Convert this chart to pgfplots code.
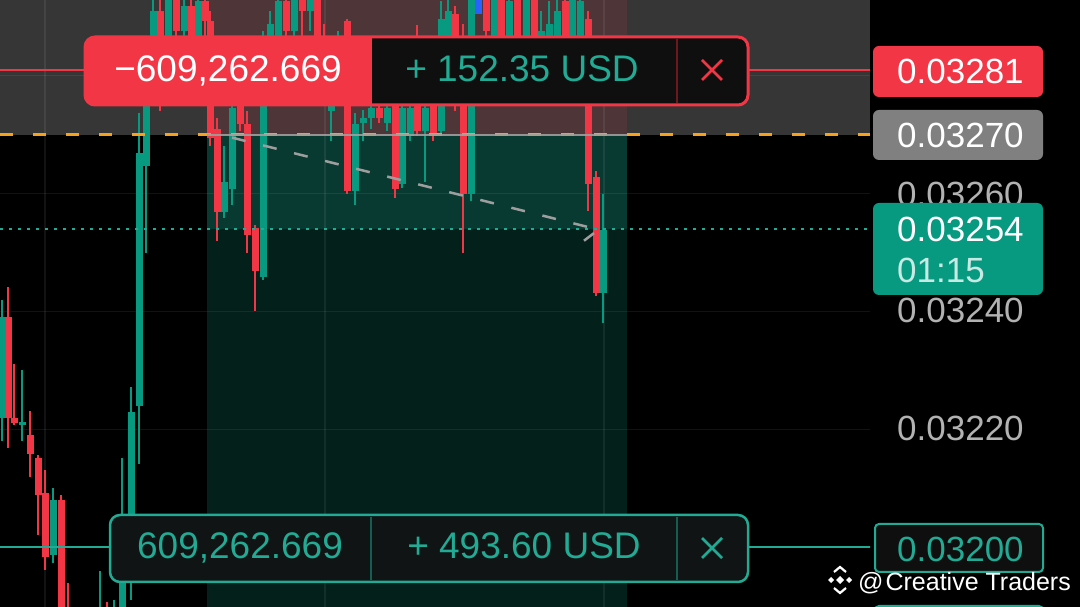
\documentclass[border=0pt]{standalone}
\usepackage{fontspec}
\setmainfont{Liberation Sans}
\usepackage{pgfplots}
\pgfplotsset{compat=1.18}
\usepackage{pgfplotstable}
\definecolor{cRed}{HTML}{F23645}
\definecolor{cGreen}{HTML}{089981}
\definecolor{cTeal}{HTML}{22AB94}
\definecolor{cOrange}{HTML}{F7A21B}
\definecolor{cGrayBand}{HTML}{363636}
\definecolor{cRedZone}{HTML}{4D3538}
\definecolor{cTealHi}{HTML}{093A31}
\definecolor{cTealLo}{HTML}{03201A}
\definecolor{cBox}{HTML}{0F0F0F}
\definecolor{cBox2}{HTML}{111414}
\definecolor{cLbl}{HTML}{B2B2B2}
\definecolor{cGrayLbl}{HTML}{808080}
\definecolor{cBlue}{HTML}{2962FF}
\definecolor{cDash}{HTML}{9E9E9E}

% x = candle position, o h l c = open high low close
\pgfplotstableread{
x o h l c
8 0.032390 0.032441 0.032169 0.032220
14 0.032220 0.032310 0.032207 0.032210
30 0.032190 0.032231 0.032119 0.032159
38 0.032151 0.032156 0.032020 0.032088
45 0.032092 0.032131 0.031961 0.031983
61 0.032080 0.032088 0.031842 0.031859
68 0.031859 0.031939 0.031808 0.031825
76 0.031825 0.031842 0.031775 0.031792
92 0.031825 0.031842 0.031792 0.031808
107 0.031842 0.031907 0.031808 0.031825
160 0.032910 0.032936 0.032741 0.032859
176 0.032936 0.032953 0.032859 0.032876
191 0.032919 0.032944 0.032842 0.032859
205 0.032927 0.032944 0.032868 0.032893
210 0.032893 0.032910 0.032681 0.032695
217 0.032710 0.032729 0.032520 0.032568
240 0.032825 0.032859 0.032707 0.032719
247 0.032719 0.032741 0.032500 0.032529
255 0.032541 0.032546 0.032400 0.032469
286 0.032927 0.032953 0.032825 0.032876
302 0.032936 0.032953 0.032859 0.032910
317 0.032944 0.032953 0.032825 0.032864
324 0.032864 0.032888 0.032792 0.032825
347 0.032893 0.032897 0.032600 0.032605
379 0.032746 0.032868 0.032720 0.032729
395 0.032825 0.032859 0.032592 0.032608
417 0.032775 0.032886 0.032698 0.032707
433 0.032825 0.032859 0.032690 0.032698
455 0.032905 0.032919 0.032741 0.032792
463 0.032825 0.032888 0.032500 0.032600
486 0.032944 0.032961 0.032825 0.032876
501 0.032944 0.032961 0.032792 0.032859
517 0.032944 0.032961 0.032825 0.032859
534 0.032944 0.032961 0.032792 0.032842
565 0.032927 0.032944 0.032775 0.032842
588 0.032897 0.032910 0.032571 0.032617
596 0.032629 0.032639 0.032427 0.032431
}\redC

\pgfplotstableread{
x o h l c
2 0.032220 0.032419 0.032181 0.032390
22 0.032208 0.032300 0.032181 0.032212
53 0.031986 0.032100 0.031973 0.032080
84 0.031792 0.031842 0.031775 0.031825
100 0.031808 0.031959 0.031775 0.031842
114 0.031825 0.031910 0.031808 0.031876
122 0.031876 0.032151 0.031868 0.031939
131 0.031939 0.032271 0.031910 0.032229
139 0.032239 0.032737 0.032142 0.032669
146 0.032647 0.032792 0.032500 0.032758
153 0.032825 0.032944 0.032758 0.032910
168 0.032859 0.032961 0.032842 0.032936
184 0.032876 0.032944 0.032851 0.032919
198 0.032859 0.032944 0.032842 0.032927
224 0.032568 0.032681 0.032559 0.032619
232 0.032608 0.032758 0.032580 0.032746
263 0.032459 0.032876 0.032453 0.032842
270 0.032864 0.032910 0.032825 0.032888
278 0.032864 0.032944 0.032842 0.032927
294 0.032876 0.032961 0.032859 0.032936
310 0.032910 0.032961 0.032876 0.032944
331 0.032741 0.032825 0.032690 0.032808
338 0.032808 0.032876 0.032758 0.032859
355 0.032605 0.032737 0.032580 0.032719
363 0.032719 0.032741 0.032690 0.032729
371 0.032729 0.032775 0.032710 0.032746
387 0.032720 0.032792 0.032707 0.032746
402 0.032617 0.032775 0.032610 0.032746
410 0.032698 0.032792 0.032690 0.032746
425 0.032707 0.032825 0.032619 0.032746
441 0.032707 0.032927 0.032698 0.032897
448 0.032859 0.032936 0.032825 0.032910
471 0.032600 0.032961 0.032588 0.032944
494 0.032859 0.032961 0.032808 0.032944
509 0.032842 0.032944 0.032775 0.032927
526 0.032859 0.032961 0.032808 0.032944
541 0.032825 0.032910 0.032775 0.032876
549 0.032859 0.032927 0.032792 0.032888
557 0.032842 0.032944 0.032783 0.032910
572 0.032825 0.032961 0.032766 0.032936
580 0.032859 0.032953 0.032792 0.032927
603 0.032431 0.032600 0.032381 0.032539
}\greenC

\pgfplotstableread{
x o h l c
478 0.032905 0.032944 0.032905 0.032944
}\blueC

\pgfplotsset{
  wick/.style={forget plot, draw=none, mark=none,
    error bars/.cd, y dir=both, y explicit, error mark=none,
    error bar style={draw=#1, line width=1.8pt, solid}},
  body/.style={forget plot, draw=none, mark=none,
    error bars/.cd, y dir=both, y explicit, error mark=none,
    error bar style={draw=#1, line width=7pt, solid}},
}

\begin{document}
\begin{tikzpicture}[x=1pt,y=1pt]
\useasboundingbox (0,0) rectangle (1080,607);
\fill[black] (0,0) rectangle (1080,607);

\begin{axis}[at={(0,0)}, anchor=south west, width=870pt, height=607pt,
  scale only axis, xmin=0, xmax=870, ymin=0.0318985, ymax=0.0329285,
  hide axis, clip=true]

% zones
\addplot[fill=cGrayBand, draw=none, forget plot] coordinates {(0,0.03270) (870,0.03270) (870,0.0331) (0,0.0331)} -- cycle;
\addplot[fill=cRedZone, draw=none, forget plot] coordinates {(207,0.03270) (627,0.03270) (627,0.0331) (207,0.0331)} -- cycle;
\addplot[fill=cTealHi, draw=none, forget plot] coordinates {(207,0.03254) (627,0.03254) (627,0.03270) (207,0.03270)} -- cycle;
\addplot[fill=cTealLo, draw=none, forget plot] coordinates {(207,0.0317) (627,0.0317) (627,0.03254) (207,0.03254)} -- cycle;

% grid
\addplot[white, opacity=0.07, line width=1.5pt, forget plot] coordinates {(45,0.0317) (45,0.0331)};
\addplot[white, opacity=0.07, line width=1.5pt, forget plot] coordinates {(325,0.0317) (325,0.0331)};
\addplot[white, opacity=0.07, line width=1.5pt, forget plot] coordinates {(604,0.0317) (604,0.0331)};
\addplot[white, opacity=0.07, line width=1.5pt, forget plot] coordinates {(0,0.03280) (870,0.03280)};
\addplot[white, opacity=0.07, line width=1.5pt, forget plot] coordinates {(0,0.03260) (870,0.03260)};
\addplot[white, opacity=0.07, line width=1.5pt, forget plot] coordinates {(0,0.03240) (870,0.03240)};
\addplot[white, opacity=0.07, line width=1.5pt, forget plot] coordinates {(0,0.03220) (870,0.03220)};

% candles
\addplot[wick=cRed] table[x=x, y expr={(\thisrow{h}+\thisrow{l})/2}, y error expr={(\thisrow{h}-\thisrow{l})/2}] {\redC};
\addplot[body=cRed] table[x=x, y expr={(\thisrow{o}+\thisrow{c})/2}, y error expr={max(abs(\thisrow{o}-\thisrow{c})/2,0.0000006)}] {\redC};
\addplot[wick=cGreen] table[x=x, y expr={(\thisrow{h}+\thisrow{l})/2}, y error expr={(\thisrow{h}-\thisrow{l})/2}] {\greenC};
\addplot[body=cGreen] table[x=x, y expr={(\thisrow{o}+\thisrow{c})/2}, y error expr={max(abs(\thisrow{o}-\thisrow{c})/2,0.0000006)}] {\greenC};
\addplot[body=black] table[x=x, y expr={(\thisrow{o}+\thisrow{c})/2}, y error expr={abs(\thisrow{o}-\thisrow{c})/2+0.0000003}] {\blueC};
\addplot[body=cBlue] table[x=x, y expr={(\thisrow{o}+\thisrow{c})/2}, y error expr={abs(\thisrow{o}-\thisrow{c})/2-0.0000001}] {\blueC};

% price lines
\addplot[cOrange, line width=3pt, dash pattern=on 13pt off 20pt, forget plot] coordinates {(0,0.03270) (870,0.03270)};
\addplot[cDash, opacity=0.9, line width=2pt, forget plot] coordinates {(207,0.03270) (627,0.03270)};
\addplot[cRed, line width=2pt, forget plot] coordinates {(0,0.03281) (873,0.03281)};
\addplot[cTeal, line width=2.5pt, dash pattern=on 3pt off 6pt, forget plot] coordinates {(0,0.03254) (870,0.03254)};
\addplot[cTeal, line width=2pt, forget plot] coordinates {(0,0.03200) (875,0.03200)};
% trade path
\addplot[cDash, line width=2.5pt, dash pattern=on 14pt off 18pt, forget plot] coordinates {(232,0.032695) (598,0.032539)};
\addplot[cDash, line width=2.5pt, forget plot] coordinates {(584,0.032520) (594,0.032533)};
\end{axis}

% top (stop) box
\begin{scope}
\clip[rounded corners=10pt] (85,502) rectangle (748,570);
\fill[cBox] (85,502) rectangle (748,570);
\fill[cRed] (85,502) rectangle (372,570);
\end{scope}
\draw[cRed, line width=3pt, rounded corners=10pt] (85,502) rectangle (748,570);
\draw[cRed!45!black, line width=1.5pt] (677,504) -- (677,568);
\node[anchor=base, inner sep=0, text=white, font=\fontsize{37}{40}\selectfont] at (228,525) {−609,262.669};
\node[anchor=base, inner sep=0, text=cTeal, font=\fontsize{37}{40}\selectfont] at (522,525) {+ 152.35 USD};
\draw[cRed, line width=2.5pt] (702,527) -- (722,547) (702,547) -- (722,527);

% bottom (target) box
\draw[cTeal, fill=cBox2, line width=2.5pt, rounded corners=10pt] (110,25) rectangle (748,92);
\draw[cTeal!55!black, line width=1.5pt] (371,27) -- (371,90) (677,27) -- (677,90);
\node[anchor=base, inner sep=0, text=cTeal, font=\fontsize{37}{40}\selectfont] at (240,48) {609,262.669};
\node[anchor=base, inner sep=0, text=cTeal, font=\fontsize{37}{40}\selectfont] at (524,48) {+ 493.60 USD};
\draw[cTeal, line width=2.5pt] (702,49) -- (722,69) (702,69) -- (722,49);

% price scale
\fill[cRed, rounded corners=6pt] (873,510) rectangle (1043,561);
\node[anchor=base west, inner sep=0, text=white, font=\fontsize{35}{40}\selectfont] at (897,523) {0.03281};
\fill[cGrayLbl, rounded corners=6pt] (873,447) rectangle (1043,497);
\node[anchor=base west, inner sep=0, text=white, font=\fontsize{35}{40}\selectfont] at (897,459) {0.03270};
\node[anchor=base west, inner sep=0, text=cLbl, font=\fontsize{35}{40}\selectfont] at (897,400) {0.03260};
\fill[cGreen, rounded corners=6pt] (873,312) rectangle (1043,404);
\node[anchor=base west, inner sep=0, text=white, font=\fontsize{35}{40}\selectfont] at (897,365) {0.03254};
\node[anchor=base west, inner sep=0, text=cTeal!25!white, font=\fontsize{35}{40}\selectfont] at (897,324) {01:15};
\node[anchor=base west, inner sep=0, text=cLbl, font=\fontsize{35}{40}\selectfont] at (897,284) {0.03240};
\node[anchor=base west, inner sep=0, text=cLbl, font=\fontsize{35}{40}\selectfont] at (897,166) {0.03220};
\draw[cTeal, fill=cBox, line width=2pt, rounded corners=4pt] (875,35) rectangle (1043,83);
\node[anchor=base west, inner sep=0, text=cTeal, font=\fontsize{35}{40}\selectfont] at (897,45) {0.03200};
\draw[cTeal, line width=2pt, rounded corners=4pt] (875,-20) rectangle (1043,1);

% watermark
\fill[white] (840,31) -- (844,27) -- (840,23) -- (836,27) -- cycle;
\fill[white] (831,30) -- (834,27) -- (831,24) -- (828,27) -- cycle;
\fill[white] (849,30) -- (852,27) -- (849,24) -- (846,27) -- cycle;
\draw[white, line width=2.2pt] (834,35) -- (840,40) -- (846,35);
\draw[white, line width=2.2pt] (834,19) -- (840,14) -- (846,19);
\node[anchor=base west, inner sep=0, text=white, font=\fontsize{25}{28}\selectfont] at (858,16) {@\kern2pt Creative Traders};
\end{tikzpicture}
\end{document}
